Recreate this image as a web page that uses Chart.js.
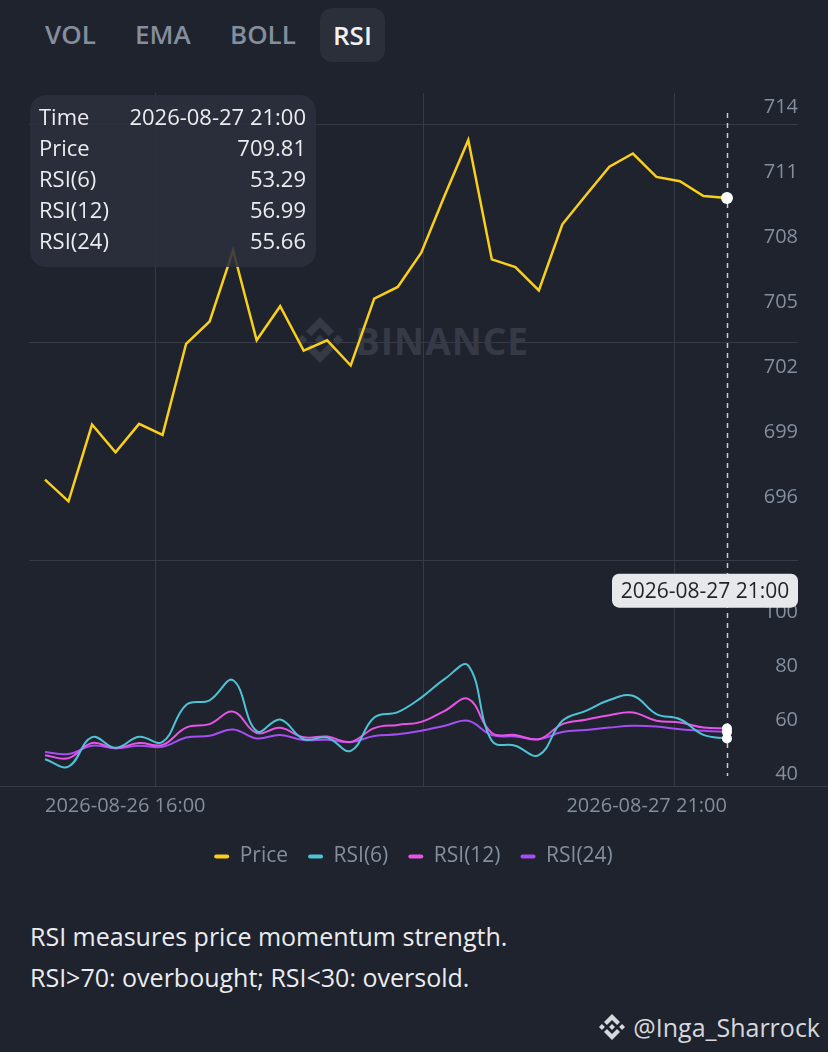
<!DOCTYPE html>
<html>
<head>
<meta charset="utf-8">
<script src="https://cdn.jsdelivr.net/npm/chart.js@4.4.0/dist/chart.umd.min.js"></script>
<style>
  html, body { margin: 0; padding: 0; background: #1f232e; }
  body { width: 828px; height: 1052px; overflow: hidden; position: relative; font-family: 'Open Sans', sans-serif; }
  .tab { position: absolute; top: 13px; font-size: 26px; font-weight: 600; color: #848e9c; line-height: 42px; }
  .tab.on { color: #f0f1f3; background: #2b2f3a; border-radius: 12px; top: 8px; height: 54px; line-height: 54px; padding: 0 13px; }
  #wm { position: absolute; left: 297px; top: 317px; height: 46px; display: flex; align-items: center; color: #353a46; font-weight: 700; font-size: 37px; letter-spacing: 1px; }
  #wm svg { width: 46px; height: 46px; margin-right: 12px; fill: #353a46; }
  #chartBox { position: absolute; left: 0; top: 0; width: 828px; height: 880px; }
  #tip { position: absolute; left: 30px; top: 95px; width: 286px; height: 172px; border-radius: 16px; background: rgba(44, 48, 60, 0.88); box-sizing: border-box; padding: 6px 10px 0 9px; color: #eaecef; font-size: 22px; line-height: 31px; }
  #tip .row { display: flex; justify-content: space-between; }
  #note { position: absolute; left: 30px; top: 916px; color: #eaecef; font-size: 25px; line-height: 41px; }
  #sign { position: absolute; right: 8px; top: 1010px; display: flex; align-items: center; color: #d5d8dd; font-size: 25px; }
  #sign svg { width: 26px; height: 26px; margin-right: 8px; fill: #d5d8dd; }
</style>
</head>
<body>
<div class="tab" style="left:45px">VOL</div>
<div class="tab" style="left:135px">EMA</div>
<div class="tab" style="left:230px">BOLL</div>
<div class="tab on" style="left:320px">RSI</div>

<div id="wm">
  <svg viewBox="0 0 126.61 126.61"><path d="M38.73 53.2l24.59-24.58 24.6 24.6 14.3-14.31L63.32 0 24.42 38.9l14.31 14.3zM0 63.31l14.3-14.31 14.31 14.31-14.31 14.3zM38.73 73.41l24.59 24.59 24.6-24.6 14.31 14.29-38.9 38.91-38.91-38.88-.02-.02zM98 63.31l14.3-14.31 14.31 14.3-14.31 14.32zM77.83 63.3L63.32 48.78 52.59 59.51l-1.24 1.23-2.54 2.54 14.51 14.5 14.51-14.47z"/></svg>
  BINANCE
</div>

<div id="chartBox"><canvas id="rsiChart"></canvas></div>

<div id="tip"></div>

<div id="note">RSI measures price momentum strength.<br>RSI&gt;70: overbought; RSI&lt;30: oversold.</div>

<div id="sign">
  <svg viewBox="0 0 126.61 126.61"><path d="M38.73 53.2l24.59-24.58 24.6 24.6 14.3-14.31L63.32 0 24.42 38.9l14.31 14.3zM0 63.31l14.3-14.31 14.31 14.31-14.31 14.3zM38.73 73.41l24.59 24.59 24.6-24.6 14.31 14.29-38.9 38.91-38.91-38.88-.02-.02zM98 63.31l14.3-14.31 14.31 14.3-14.31 14.32zM77.83 63.3L63.32 48.78 52.59 59.51l-1.24 1.23-2.54 2.54 14.51 14.5 14.51-14.47z"/></svg>
  @Inga_Sharrock
</div>

<script>
// hourly closes, 2026-08-26 16:00 .. 2026-08-27 21:00
const price = [696.83, 695.83, 699.37, 698.09, 699.40, 698.89, 703.09, 704.12, 707.40, 703.25,
               704.82, 702.78, 703.25, 702.09, 705.17, 705.71, 707.29, 709.94, 712.48, 706.98,
               706.63, 705.55, 708.60, 709.94, 711.25, 711.86, 710.78, 710.58, 709.90, 709.81];
const rsi6 = [45.6, 42.9, 53.8, 49.8, 53.9, 52.0, 65.7, 67.4, 74.8, 56.0,
              60.3, 53.0, 53.6, 48.7, 61.0, 63.0, 68.4, 75.3, 80.2, 52.4,
              50.6, 47.1, 59.8, 63.5, 67.5, 69.1, 62.3, 60.4, 54.6, 53.29];
const rsi12 = [47.1, 46.0, 51.6, 49.7, 51.6, 50.9, 57.3, 58.6, 63.2, 55.3,
               57.2, 53.7, 54.0, 52.0, 57.1, 58.3, 59.4, 63.5, 67.9, 55.3,
               54.6, 53.0, 58.6, 60.2, 61.9, 62.9, 59.8, 59.2, 57.3, 56.99];
const rsi24 = [48.3, 47.5, 50.6, 49.7, 50.6, 50.2, 53.6, 54.3, 56.6, 53.3,
               54.6, 52.7, 52.8, 51.9, 54.2, 54.8, 56.1, 58.0, 59.8, 54.5,
               54.0, 53.0, 55.7, 56.4, 57.3, 58.0, 57.7, 56.7, 56.1, 55.66];

const xTickIndex = [0, 29];
const xTickLabels = ['2026-08-26 16:00', '2026-08-27 21:00'];
const priceTicks = [696, 699, 702, 705, 708, 711, 714];
const rsiTicks = [40, 60, 80, 100];

const last = price.length - 1;
const gray = '#848e9c';
const gridColor = '#363a46';

// tooltip box shows the hovered (last) candle
const tipRows = [
  ['Time', xTickLabels[1]],
  ['Price', price[last].toFixed(2)],
  ['RSI(6)', rsi6[last].toFixed(2)],
  ['RSI(12)', rsi12[last].toFixed(2)],
  ['RSI(24)', rsi24[last].toFixed(2)],
];
document.getElementById('tip').innerHTML = tipRows.map(r =>
  '<div class="row"><span>' + r[0] + '</span><span>' + r[1] + '</span></div>').join('');

const toPts = arr => arr.map((v, i) => ({ x: i, y: v }));
const lastDot = r => ctx => ctx.dataIndex === last ? r : 0;

const paneGrid = {                       // grid, crosshair and date tag
  id: 'paneGrid',
  beforeDatasetsDraw(chart) {
    const { ctx, chartArea: a, scales } = chart;
    ctx.save();
    ctx.strokeStyle = gridColor;
    ctx.lineWidth = 1;
    ctx.beginPath();
    for (let yy = scales.y.bottom; yy > scales.y.top + 10; yy -= 218) {
      ctx.moveTo(a.left, Math.round(yy) + 0.5);
      ctx.lineTo(a.right, Math.round(yy) + 0.5);
    }
    [0.1638, 0.5124, 0.8388].forEach(f => {
      const xx = Math.round(a.left + f * (a.right - a.left)) + 0.5;
      ctx.moveTo(xx, a.top);
      ctx.lineTo(xx, a.bottom);
    });
    ctx.moveTo(0, Math.round(a.bottom) + 0.5);
    ctx.lineTo(chart.width, Math.round(a.bottom) + 0.5);
    ctx.stroke();

    const cx = Math.round(scales.x.getPixelForValue(last)) + 0.5;
    ctx.strokeStyle = '#c9ccd3';
    ctx.lineWidth = 1.5;
    ctx.setLineDash([5, 5]);
    ctx.beginPath();
    ctx.moveTo(cx, a.top + 20);
    ctx.lineTo(cx, a.bottom - 10);
    ctx.stroke();
    ctx.restore();
  },
  afterDraw(chart) {
    const { ctx, chartArea: a, scales } = chart;
    const w = 186, h = 34, x0 = a.right - w, y0 = scales.y2.top + 14;
    ctx.save();
    ctx.fillStyle = '#e6e8ec';
    ctx.beginPath();
    ctx.roundRect(x0, y0, w, h, 7);
    ctx.fill();
    ctx.fillStyle = '#1e2329';
    ctx.font = '21px "Open Sans"';
    ctx.textAlign = 'center';
    ctx.textBaseline = 'middle';
    ctx.fillText(xTickLabels[1], x0 + w / 2, y0 + h / 2 + 1);
    ctx.restore();
  }
};

const ctx = document.getElementById('rsiChart').getContext('2d');
new Chart(ctx, {
  type: 'line',
  data: {
    datasets: [
      { label: 'Price', data: toPts(price), yAxisID: 'y', borderColor: '#f9cf1a', borderWidth: 2.5,
        tension: 0, pointRadius: lastDot(6), pointBackgroundColor: '#ffffff', pointBorderWidth: 0 },
      { label: 'RSI(6)', data: toPts(rsi6), yAxisID: 'y2', borderColor: '#4ec3d6', borderWidth: 2,
        tension: 0.4, pointRadius: lastDot(5), pointBackgroundColor: '#ffffff', pointBorderWidth: 0 },
      { label: 'RSI(12)', data: toPts(rsi12), yAxisID: 'y2', borderColor: '#e754e6', borderWidth: 2,
        tension: 0.4, pointRadius: lastDot(5), pointBackgroundColor: '#ffffff', pointBorderWidth: 0 },
      { label: 'RSI(24)', data: toPts(rsi24), yAxisID: 'y2', borderColor: '#a64df3', borderWidth: 2,
        tension: 0.4, pointRadius: lastDot(5), pointBackgroundColor: '#ffffff', pointBorderWidth: 0 },
    ],
  },
  options: {
    responsive: true,
    maintainAspectRatio: false,
    animation: false,
    layout: { padding: { left: 29, right: 30, top: 93, bottom: 3 } },
    scales: {
      x: {
        type: 'linear', min: -0.68, max: 32.02,
        grid: { display: false, drawTicks: false }, border: { display: false },
        afterBuildTicks: s => { s.ticks = xTickIndex.map(v => ({ value: v })); },
        ticks: {
          align: 'inner', autoSkip: false, maxRotation: 0, padding: 8, color: gray,
          font: { family: 'Open Sans', size: 20 },
          callback: v => xTickLabels[xTickIndex.indexOf(v)],
        },
      },
      y: {
        position: 'right', stack: 'panes', stackWeight: 466, min: 693.14, max: 714.65,
        grid: { display: false, drawTicks: false }, border: { display: false },
        afterBuildTicks: s => { s.ticks = priceTicks.map(v => ({ value: v })); },
        ticks: { mirror: true, padding: 0, color: gray, font: { family: 'Open Sans', size: 20 } },
      },
      y2: {
        position: 'right', stack: 'panes', stackWeight: 226, min: 35.7, max: 119.4,
        grid: { display: false, drawTicks: false }, border: { display: false },
        afterBuildTicks: s => { s.ticks = rsiTicks.map(v => ({ value: v })); },
        ticks: { mirror: true, padding: 0, color: gray, font: { family: 'Open Sans', size: 20 } },
      },
    },
    plugins: {
      tooltip: { enabled: false },
      legend: {
        position: 'bottom',
        labels: {
          color: gray, boxWidth: 15, boxHeight: 4, padding: 20, useBorderRadius: true, borderRadius: 2,
          font: { family: 'Open Sans', size: 21 },
          generateLabels: chart => chart.data.datasets.map((ds, i) => ({
            text: ds.label, fillStyle: ds.borderColor, strokeStyle: ds.borderColor,
            lineWidth: 0, fontColor: gray, datasetIndex: i, borderRadius: 2,
          })),
        },
      },
    },
  },
  plugins: [paneGrid],
});
</script>
</body>
</html>
